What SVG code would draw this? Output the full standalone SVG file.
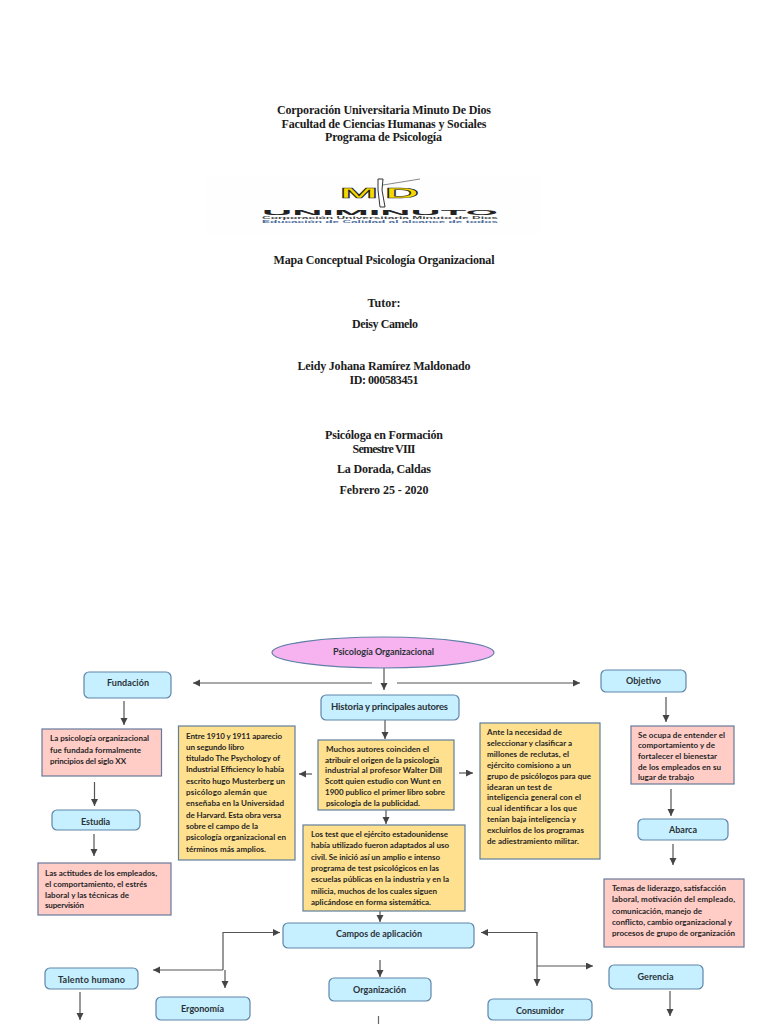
<svg xmlns="http://www.w3.org/2000/svg" width="768" height="1024" viewBox="0 0 768 1024">
<style>
text{font-family:"Lato","Open Sans","Liberation Sans",sans-serif;fill:#222}
.t{font-family:"Liberation Serif","Times New Roman",serif;font-weight:700;font-size:12px;text-anchor:middle;fill:#1c1c1c}
.b{font-size:8px;font-weight:700;fill:#262626}
.l{font-size:9px;font-weight:700;text-anchor:middle;fill:#2a3238}
.lg{font-family:"Liberation Sans",sans-serif;font-weight:700}
.n{fill:#c6efff;stroke:#5f86aa;stroke-width:1.2}
.p{fill:#ffccc6;stroke:#66799c;stroke-width:1.2}
.y{fill:#ffe08e;stroke:#5f7f9c;stroke-width:1.2}
.c{fill:none;stroke:#555;stroke-width:1.2;marker-end:url(#a)}
.c0{fill:none;stroke:#666;stroke-width:1.2}
</style>
<defs>
<marker id="a" markerUnits="userSpaceOnUse" markerWidth="8" markerHeight="8" refX="7" refY="3.5" orient="auto"><path d="M0 0L7 3.5L0 7Z" fill="#444"/></marker>
</defs>
<rect width="768" height="1024" fill="#fff"/>

<g id="title">
<text class="t" x="384" y="114" textLength="214">Corporación Universitaria Minuto De Dios</text>
<text class="t" x="384" y="127.500" textLength="205">Facultad de Ciencias Humanas y Sociales</text>
<text class="t" x="383.500" y="140.500" textLength="117">Programa de Psicología</text>
<text class="t" x="384" y="264" textLength="221">Mapa Conceptual Psicología Organizacional</text>
<text class="t" x="384" y="307" textLength="33">Tutor:</text>
<text class="t" x="385" y="328" textLength="66">Deisy Camelo</text>
<text class="t" x="384" y="370" textLength="173">Leidy Johana Ramírez Maldonado</text>
<text class="t" x="384" y="384" textLength="69">ID: 000583451</text>
<text class="t" x="384" y="439" textLength="118">Psicóloga en Formación</text>
<text class="t" x="384" y="453" textLength="63">Semestre VIII</text>
<text class="t" x="384" y="473" textLength="94">La Dorada, Caldas</text>
<text class="t" x="384" y="494" textLength="89">Febrero 25 - 2020</text>
</g>

<g id="logo">
<rect x="205" y="176" width="335" height="58" fill="#fefefe"/>
<text class="lg" x="340" y="197.500" textLength="38" lengthAdjust="spacingAndGlyphs" style="font-size:15px;fill:#f5d800;stroke:#222;stroke-width:.5">M</text>
<text class="lg" x="385" y="197.500" textLength="34" lengthAdjust="spacingAndGlyphs" style="font-size:15px;fill:#f5d800;stroke:#222;stroke-width:.5">D</text>
<path d="M378 179L383 179L382 190L385 207L380 207L378 190Z" fill="#fff" stroke="#333" stroke-width="1"/>
<path d="M383 185L420 179" stroke="#888" stroke-width="1"/>
<text class="lg" x="262" y="214.500" textLength="236" lengthAdjust="spacingAndGlyphs" style="font-size:7.500px;fill:#222">UNIMINUTO</text>
<text class="lg" x="262" y="218.500" textLength="236" lengthAdjust="spacingAndGlyphs" style="font-size:4px;fill:#444">Corporación Universitaria Minuto de Dios</text>
<text class="lg" x="262" y="222.500" textLength="236" lengthAdjust="spacingAndGlyphs" style="font-size:4px;fill:#4a6a9a">Educación de Calidad al alcance de todos</text>
</g>

<g id="connectors">
<path class="c" d="M384 668V690"/>
<path class="c" d="M372 683H193"/>
<path class="c" d="M397 683H580"/>
<path class="c" d="M124 701V725"/>
<path class="c" d="M94.500 782V806"/>
<path class="c" d="M94 834V856"/>
<path class="c" d="M385 720V739"/>
<path class="c" d="M312 774H299"/>
<path class="c" d="M459 773H473"/>
<path class="c" d="M386 810V824"/>
<path class="c" d="M380 911V922"/>
<path class="c" d="M666 697V722"/>
<path class="c" d="M671 789V816"/>
<path class="c" d="M673 844V865"/>
<path class="c" d="M380 960V977"/>
<path class="c0" d="M378.500 1016V1024"/>
<path class="c" d="M223 970V932.500H280"/>
<path class="c" d="M223 970H153"/>
<path class="c" d="M225 970V988"/>
<path class="c" d="M537 966V932.500H481"/>
<path class="c" d="M537 966V986"/>
<path class="c" d="M537 966H593"/>
<path class="c" d="M80 992V1020"/>
<path class="c" d="M670 991V1016"/>
</g>

<g id="psicologia"><ellipse cx="383" cy="652.500" rx="111" ry="15.500" fill="#f7b3ef" stroke="#5f7fa8" stroke-width="1.2"/><text class="l" x="383.500" y="655" textLength="101">Psicología Organizacional</text></g>
<g id="fundacion"><rect class="n" x="84" y="672" width="87" height="26" rx="5"/><text class="l" x="128" y="686" textLength="42">Fundación</text></g>
<g id="historia"><rect class="n" x="321" y="695" width="138" height="25" rx="5"/><text class="l" x="389.500" y="710" textLength="117" style="font-size:9.500px">Historia y principales autores</text></g>
<g id="objetivo"><rect class="n" x="601" y="670" width="85" height="22" rx="5"/><text class="l" x="643.500" y="684" textLength="35">Objetivo</text></g>
<g id="estudia"><rect class="n" x="52" y="810" width="88" height="20" rx="5"/><text class="l" x="95.500" y="825" textLength="29">Estudia</text></g>
<g id="abarca"><rect class="n" x="638" y="819" width="90" height="21" rx="5"/><text class="l" x="683" y="833" textLength="28">Abarca</text></g>
<g id="campos"><rect class="n" x="283" y="923" width="191" height="25" rx="5"/><text class="l" x="379" y="937" textLength="86">Campos de aplicación</text></g>
<g id="talento"><rect class="n" x="45" y="968" width="93" height="21" rx="5"/><text class="l" x="91.500" y="983" textLength="67">Talento humano</text></g>
<g id="ergonomia"><rect class="n" x="156" y="997" width="94" height="23" rx="5"/><text class="l" x="202.500" y="1012" textLength="43">Ergonomía</text></g>
<g id="organizacion"><rect class="n" x="329" y="978" width="102" height="23" rx="5"/><text class="l" x="379.500" y="993" textLength="53">Organización</text></g>
<g id="consumidor"><rect class="n" x="488" y="999" width="104" height="21" rx="5"/><text class="l" x="540" y="1014" textLength="48">Consumidor</text></g>
<g id="gerencia"><rect class="n" x="609" y="965" width="94" height="24" rx="5"/><text class="l" x="655.500" y="980" textLength="36">Gerencia</text></g>

<g id="psicologia-fundada"><rect class="p" x="42" y="729" width="119.500" height="47"/>
<text class="b" x="50" y="741" textLength="99">La psicología organizacional</text>
<text class="b" x="50" y="752.500" textLength="91">fue fundada formalmente</text>
<text class="b" x="50" y="763.500" textLength="76">principios del siglo XX</text></g>

<g id="actitudes"><rect class="p" x="38" y="863" width="133" height="52"/>
<text class="b" x="45" y="876" textLength="112">Las actitudes de los empleados,</text>
<text class="b" x="45" y="887" textLength="102">el comportamiento, el estrés</text>
<text class="b" x="45" y="898" textLength="84">laboral y las técnicas de</text>
<text class="b" x="45" y="908" textLength="39">supervisión</text></g>

<g id="entre-1910"><rect class="y" x="178.500" y="726" width="116.500" height="134"/>
<text class="b" x="186" y="738.500" textLength="96">Entre 1910 y 1911 aparecio</text>
<text class="b" x="186" y="749.800" textLength="58">un segundo libro</text>
<text class="b" x="186" y="761.100" textLength="94">titulado The Psychology of</text>
<text class="b" x="186" y="772.400" textLength="98">Industrial Efficiency lo había</text>
<text class="b" x="186" y="783.700" textLength="99">escrito hugo Musterberg un</text>
<text class="b" x="186" y="795" textLength="81">psicólogo alemán que</text>
<text class="b" x="186" y="806.300" textLength="98">enseñaba en la Universidad</text>
<text class="b" x="186" y="817.600" textLength="95">de Harvard. Esta obra versa</text>
<text class="b" x="186" y="828.900" textLength="72">sobre el campo de la</text>
<text class="b" x="186" y="840.200" textLength="100">psicología organizacional en</text>
<text class="b" x="186" y="851.500" textLength="80">términos más amplios.</text></g>

<g id="muchos"><rect class="y" x="318" y="740" width="136" height="70"/>
<text class="b" x="326" y="752" textLength="103">Muchos autores coinciden el</text>
<text class="b" x="325" y="762.700" textLength="114">atribuir el origen de la psicología</text>
<text class="b" x="325" y="773.400" textLength="117">industrial al profesor Walter Dill</text>
<text class="b" x="325" y="784.100" textLength="116">Scott quien estudio con Wunt en</text>
<text class="b" x="325" y="794.800" textLength="120">1900 publico el primer libro sobre</text>
<text class="b" x="326" y="805.500" textLength="94">psicología de la publicidad.</text></g>

<g id="los-test"><rect class="y" x="303" y="825" width="162" height="86"/>
<text class="b" x="311" y="837" textLength="137">Los test que el ejército estadounidense</text>
<text class="b" x="311" y="848.300" textLength="138">había utilizado fueron adaptados al uso</text>
<text class="b" x="311" y="859.600" textLength="129">civil. Se inició así un amplio e intenso</text>
<text class="b" x="311" y="870.900" textLength="128">programa de test psicológicos en las</text>
<text class="b" x="311" y="882.200" textLength="138">escuelas públicas en la industria y en la</text>
<text class="b" x="311" y="893.500" textLength="126">milicia, muchos de los cuales siguen</text>
<text class="b" x="311" y="904.800" textLength="120">aplicándose en forma sistemática.</text></g>

<g id="ante"><rect class="y" x="480" y="723" width="120" height="136"/>
<text class="b" x="487" y="735" textLength="75">Ante la necesidad de</text>
<text class="b" x="487" y="745.900" textLength="85">seleccionar y clasificar a</text>
<text class="b" x="487" y="756.800" textLength="82">millones de reclutas, el</text>
<text class="b" x="487" y="767.700" textLength="84">ejército comisiono a un</text>
<text class="b" x="487" y="778.600" textLength="104">grupo de psicólogos para que</text>
<text class="b" x="487" y="789.500" textLength="65">idearan un test de</text>
<text class="b" x="487" y="800.400" textLength="94">inteligencia general con el</text>
<text class="b" x="487" y="811.300" textLength="90">cual identificar a los que</text>
<text class="b" x="487" y="822.200" textLength="89">tenían baja inteligencia y</text>
<text class="b" x="487" y="833.100" textLength="97">excluirlos de los programas</text>
<text class="b" x="487" y="844" textLength="92">de adiestramiento militar.</text></g>

<g id="se-ocupa"><rect class="p" x="631" y="726" width="103" height="58"/>
<text class="b" x="638" y="737.700" textLength="87">Se ocupa de entender el</text>
<text class="b" x="638" y="748.300" textLength="77">comportamiento y de</text>
<text class="b" x="638" y="758.900" textLength="79">fortalecer el bienestar</text>
<text class="b" x="638" y="769.500" textLength="83">de los empleados en su</text>
<text class="b" x="638" y="780.100" textLength="56">lugar de trabajo</text></g>

<g id="temas"><rect class="p" x="604" y="879" width="140" height="68"/>
<text class="b" x="612" y="891" textLength="114">Temas de liderazgo, satisfacción</text>
<text class="b" x="612" y="902.250" textLength="123">laboral, motivación del empleado,</text>
<text class="b" x="612" y="913.500" textLength="90">comunicación, manejo de</text>
<text class="b" x="612" y="924.750" textLength="120">conflicto, cambio organizacional y</text>
<text class="b" x="612" y="936" textLength="123">procesos de grupo de organización</text></g>
</svg>
